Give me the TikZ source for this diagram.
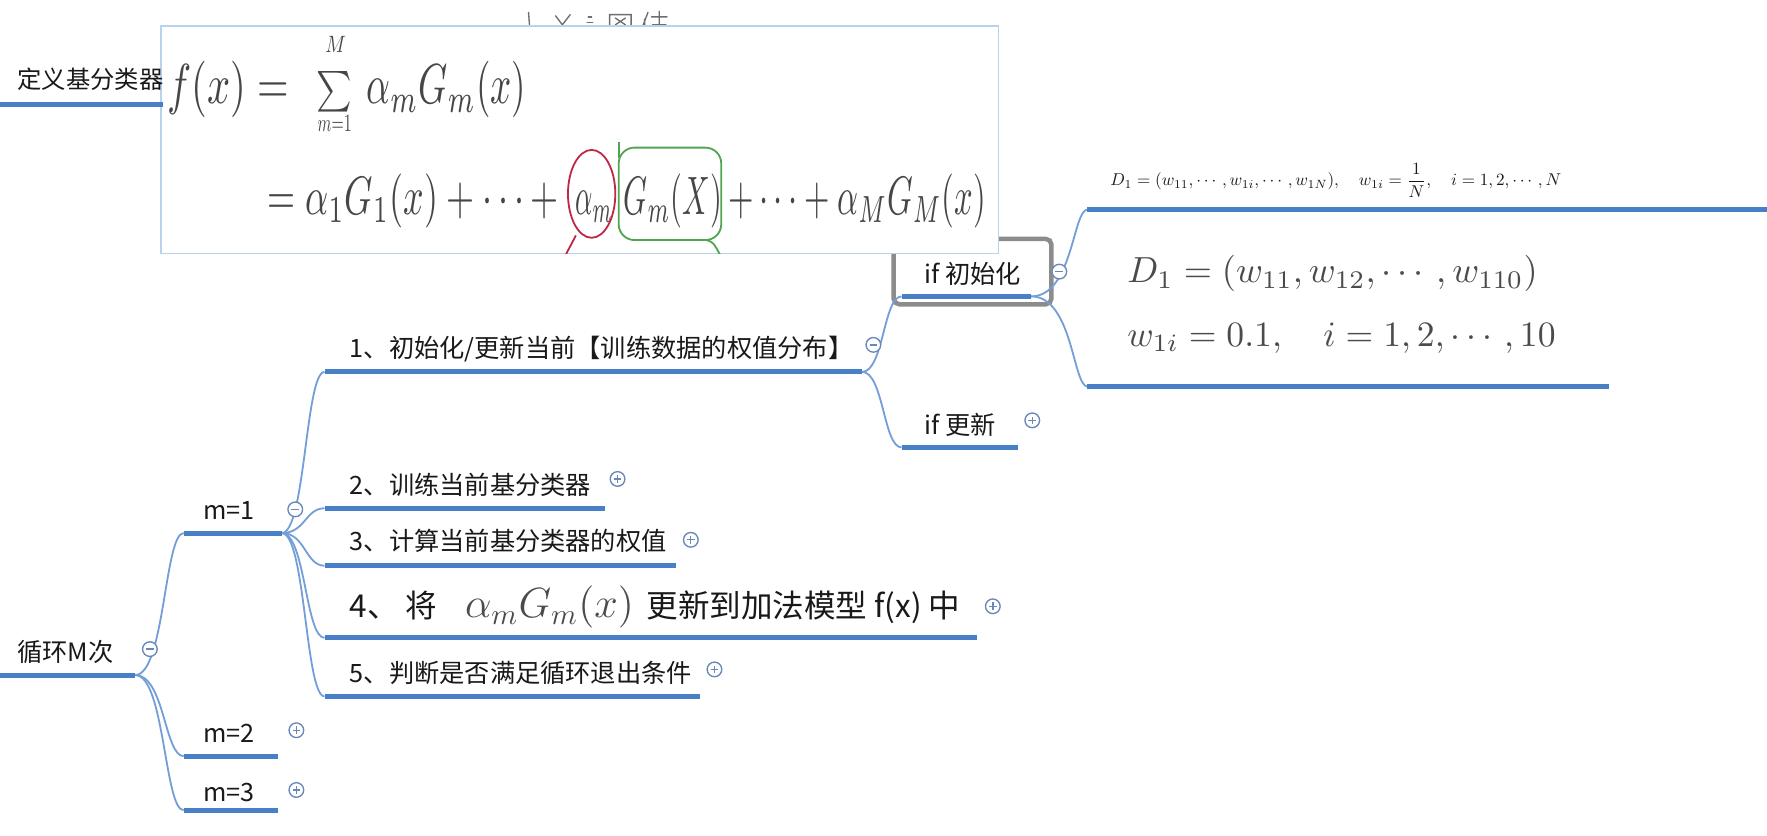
\documentclass[tikz,border=0pt]{standalone}
\usepackage{amsmath}
\usepackage{fontspec}
\setmainfont{Noto Sans CJK SC}
\usepackage{graphicx}
\usetikzlibrary{calc}
\definecolor{ublue}{RGB}{72,128,200}
\definecolor{cblue}{RGB}{115,158,215}
\definecolor{iconc}{RGB}{105,135,185}
\definecolor{txt}{RGB}{25,25,25}
\definecolor{boxb}{RGB}{185,210,240}
\definecolor{grayb}{RGB}{140,140,140}
\definecolor{hand}{RGB}{70,70,70}
\definecolor{ghost}{RGB}{110,110,110}
\definecolor{redc}{RGB}{190,40,70}
\definecolor{greenc}{RGB}{80,165,80}
\definecolor{mathg}{RGB}{75,75,75}
\tikzset{
 lbl/.style={anchor=west, inner sep=0pt, text=txt, font=\fontsize{11.2}{13}\selectfont},
 uline/.style={draw=ublue, line width=2.2pt},
 conn/.style={draw=cblue, line width=0.8pt},
 tog/.style={circle, draw=iconc, line width=0.6pt, minimum size=6.5pt, inner sep=0pt, fill=white},
 hw/.style={anchor=base west, inner sep=0pt, text=hand},
 hwc/.style={anchor=center, inner sep=0pt, text=hand},
 fml/.style={anchor=west, inner sep=0pt, text=txt},
}
\newcommand\togminus[2]{\node[tog] (#1) at (#2) {};
  \draw[iconc, line width=0.6pt] ($(#1.center)+(-1.7pt,0)$) -- ($(#1.center)+(1.7pt,0)$);}
\newcommand\togplus[2]{\node[tog] (#1) at (#2) {};
  \draw[iconc, line width=0.6pt] ($(#1.center)+(-1.7pt,0)$) -- ($(#1.center)+(1.7pt,0)$)
   ($(#1.center)+(0,-1.7pt)$) -- ($(#1.center)+(0,1.7pt)$);}
\newcommand\branch[3]{\draw[conn] (#1) .. controls ($(#1)+(#3,0)$) and ($(#1 |- #2)+(#3,0)$) .. (#2);}
\begin{document}
\begin{tikzpicture}[x=0.5pt, y=-0.5pt]
\useasboundingbox (0,0) rectangle (1568,741);
\fill[white] (0,0) rectangle (1568,741);

% ghost handwriting above the box
\begin{scope}[draw=ghost, line width=0.6pt, line cap=round]
 \draw (469,11) -- (470,24);
 \draw (493,14) -- (499,22) -- (506,13);
 \draw (522,15) -- (525,15) (521,20) -- (526,20);
 \draw (541,24) -- (541,13) -- (560,13) -- (560,24) (546,16) -- (555,22) (555,16) -- (546,22);
 \draw (570,24) -- (575,11) (572,17) -- (572,24) (578,15) -- (592,15) (585,10) -- (585,24) (579,22) -- (591,22);
\end{scope}

% gray highlight box around "if 初始化"
\draw[grayb, line width=2pt, rounded corners=2.5pt] (793,212) rectangle (933,270);

% formula box
\draw[boxb, fill=white, line width=0.7pt] (143,23) rectangle (886,225);
\begin{scope}
\clip (143,23) rectangle (886,225);
 \node[hw] (fx) at (148,92) {\scalebox{1.8}[2.5]{$f(x)=$}};
 \node[hwc] (sig) at (297,81) {\scalebox{1.5}[1.8]{$\sum$}};
 \node[hwc] (sM) at (298,39) {\scalebox{0.85}[1.05]{$M$}};
 \node[hwc] (sm) at (297,110) {\scalebox{0.7}[1.1]{$m{=}1$}};
 \node[hw] (ag) at (325,92) {\scalebox{1.65}[2.5]{$\alpha_m G_m(x)$}};
 \node[hw] (la) at (237,190) {\scalebox{1.6}[2.4]{$=\alpha_1G_1(x)+\cdots+$}};
 \node[hw] (lb) at (510,190) {\scalebox{1.2}[2.4]{$\alpha_m$}};
 \node[hw] (lc) at (553,190) {\scalebox{1.35}[2.4]{$G_m(X)$}};
 \node[hw] (ld) at (646,190) {\scalebox{1.45}[2.4]{$+\cdots+\alpha_MG_M(x)$}};
 \draw[redc, line width=0.8pt] (525,172) ellipse (10.5pt and 19.5pt);
 \draw[redc, line width=0.8pt] (511,209) -- (501,228);
 \draw[greenc, line width=0.8pt, rounded corners=7pt] (549,131) rectangle (640,213);
 \draw[greenc, line width=0.8pt] (549,126) -- (549,140);
 \draw[greenc, line width=0.8pt] (627,213) .. controls (633,215) .. (640,228);
\end{scope}

% text nodes
\node[lbl, font=\fontsize{10.8}{12}\selectfont] (def) at (15,70) {定义基分类器};
\node[lbl] (ifi) at (820,243) {if 初始化};
\node[lbl] (t1) at (310,310) {1、初始化/更新当前【训练数据的权值分布】};
\node[lbl] (ifu) at (820,377) {if 更新};
\node[lbl] (t2) at (310,430) {2、训练当前基分类器};
\node[lbl] (m1) at (180,453) {m=1};
\node[lbl] (t3) at (310,480) {3、计算当前基分类器的权值};
\node[lbl, font=\fontsize{14}{16}\selectfont] (t4) at (310,539) {4、\hspace{0.2em}将\hspace{0.9em}{\color{mathg}\scalebox{1.3}{$\alpha_mG_m(x)$}}\hspace{0.4em}更新到加法模型 f(x) 中};
\node[lbl] (loop) at (15,579) {循环M次};
\node[lbl] (t5) at (310,597) {5、判断是否满足循环退出条件};
\node[lbl] (m2) at (180,651) {m=2};
\node[lbl] (m3) at (180,703) {m=3};

% formulas on the right
\node[fml] (f1) at (985,160) {\resizebox{200pt}{!}{$D_1=(w_{11},\cdots,w_{1i},\cdots,w_{1N}),\quad w_{1i}=\dfrac{1}{N},\quad i=1,2,\cdots,N$}};
\node[fml, text=mathg] (f2) at (1000,243) {\resizebox{182pt}{!}{$D_1=(w_{11},w_{12},\cdots,w_{110})$}};
\node[fml, text=mathg] (f3) at (1000,300) {\resizebox{190pt}{!}{$w_{1i}=0.1,\quad i=1,2,\cdots,10$}};

% underline coordinates
\coordinate (defs) at (0,93);   \coordinate (defe) at (145,93);
\coordinate (lps) at (0,599);   \coordinate (lpe) at (120,599);
\coordinate (m1s) at (163,473); \coordinate (m1e) at (250,473);
\coordinate (m2s) at (163,671); \coordinate (m2e) at (247,671);
\coordinate (m3s) at (163,719); \coordinate (m3e) at (247,719);
\coordinate (u1s) at (288,330); \coordinate (u1e) at (765,330);
\coordinate (u2s) at (288,451); \coordinate (u2e) at (537,451);
\coordinate (u3s) at (288,502); \coordinate (u3e) at (600,502);
\coordinate (u4s) at (288,566); \coordinate (u4e) at (867,566);
\coordinate (u5s) at (288,618); \coordinate (u5e) at (621,618);
\coordinate (ifis) at (800,263); \coordinate (ifie) at (915,263);
\coordinate (ifus) at (800,397); \coordinate (ifue) at (903,397);
\coordinate (d1s) at (965,186); \coordinate (d1e) at (1568,186);
\coordinate (d2s) at (965,343); \coordinate (d2e) at (1428,343);

% connectors
\branch{lpe}{m1s}{26}
\branch{lpe}{m2s}{26}
\branch{lpe}{m3s}{26}
\branch{m1e}{u1s}{21}
\branch{m1e}{u2s}{21}
\branch{m1e}{u3s}{21}
\branch{m1e}{u4s}{21}
\branch{m1e}{u5s}{21}
\branch{u1e}{ifis}{19}
\branch{u1e}{ifus}{19}
\branch{ifie}{d1s}{37}
\branch{ifie}{d2s}{37}

% underlines
\foreach \a/\b in {defs/defe, lps/lpe, m1s/m1e, m2s/m2e, m3s/m3e, u1s/u1e, u2s/u2e, u3s/u3e, u4s/u4e, u5s/u5e, ifis/ifie, ifus/ifue, d1s/d1e, d2s/d2e}
  \draw[uline] (\a) -- (\b);

% toggle icons
\togminus{ti}{940,241}
\togminus{t1i}{775,306}
\togplus{tui}{916,373}
\togminus{m1i}{262,452}
\togplus{t2i}{548,425}
\togplus{t3i}{613,479}
\togplus{t4i}{881,538}
\togminus{lpi}{133,576}
\togplus{t5i}{634,594}
\togplus{m2i}{263,648}
\togplus{m3i}{263,701}
\end{tikzpicture}
\end{document}
